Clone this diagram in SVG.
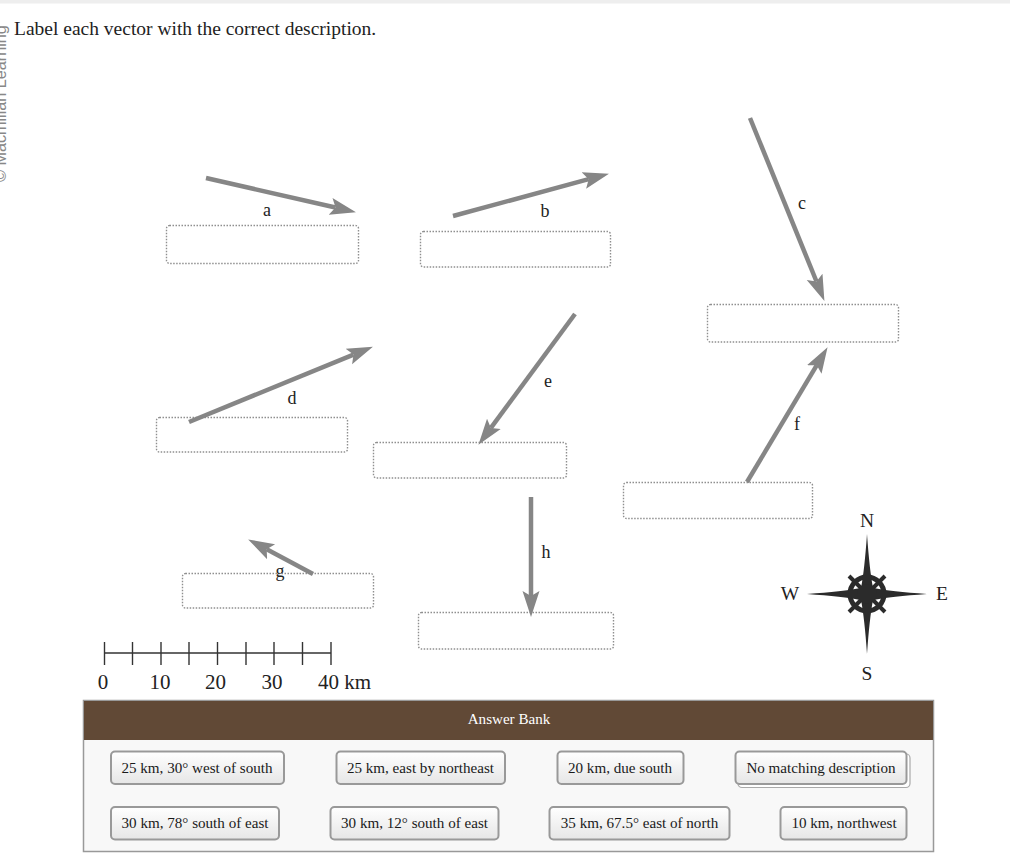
<svg xmlns="http://www.w3.org/2000/svg" width="1010" height="866" viewBox="0 0 1010 866">
<style>
text{font-family:"Liberation Serif","Times New Roman",serif;fill:#222}
.v{fill:none;stroke:#868686;stroke-width:4.500;marker-end:url(#head)}
.slot{fill:#fff;stroke:#8f8f8f;stroke-width:1.400;stroke-dasharray:1.500 1.500}
.lbl{font-size:18px;text-anchor:middle}
.tick{stroke:#333;stroke-width:1.400}
.num{font-size:21px;text-anchor:middle}
.dir{font-size:19.500px;text-anchor:middle}
.btn{fill:url(#bg);stroke:#999;stroke-width:2}
.bt{font-size:15.100px;text-anchor:middle;fill:#1a1a1a}
</style>
<defs>
<linearGradient id="bg" x1="0" y1="0" x2="0" y2="1"><stop offset="0" stop-color="#fff"/><stop offset="1" stop-color="#e6e6e6"/></linearGradient>
<marker id="head" markerUnits="userSpaceOnUse" markerWidth="30" markerHeight="22" viewBox="0 0 30 22" refX="5" refY="11" orient="auto"><path d="M0,2.500 L26,11 L0,19.500 L5,11 Z" fill="#868686"/></marker>
</defs>
<rect width="1010" height="866" fill="#fff"/>
<rect width="1010" height="3.500" fill="#eeeeee"/>
<text transform="translate(5.500,182) rotate(-90)" style="font-family:'Liberation Sans',Arial,sans-serif;fill:#888" font-size="16.200">© Macmillan Learning</text>
<text x="14" y="35" font-size="19.500">Label each vector with the correct description.</text>

<g id="slot-a"><rect class="slot" x="166.500" y="225.500" width="192" height="38" rx="3"/></g>
<g id="slot-b"><rect class="slot" x="420.500" y="231.500" width="190" height="35.500" rx="3"/></g>
<g id="slot-c"><rect class="slot" x="707.500" y="304.500" width="191" height="37.500" rx="3"/></g>
<g id="slot-d"><rect class="slot" x="156.500" y="417.500" width="191" height="34.500" rx="3"/></g>
<g id="slot-e"><rect class="slot" x="373.500" y="442.500" width="193" height="35.500" rx="3"/></g>
<g id="slot-f"><rect class="slot" x="623.500" y="482.500" width="189" height="36" rx="3"/></g>
<g id="slot-g"><rect class="slot" x="182.500" y="573.500" width="191" height="34.500" rx="3"/></g>
<g id="slot-h"><rect class="slot" x="418.500" y="612.500" width="195" height="36.500" rx="3"/></g>

<g id="connectors">
<line class="v" x1="206" y1="178" x2="335.500" y2="207.500"/>
<line class="v" x1="453" y1="216" x2="588.700" y2="179.200"/>
<line class="v" x1="750" y1="118" x2="816.500" y2="281.500"/>
<line class="v" x1="189" y1="422" x2="353.500" y2="354.600"/>
<line class="v" x1="575" y1="314" x2="490.900" y2="427.900"/>
<line class="v" x1="747" y1="482" x2="816.800" y2="365.200"/>
<line class="v" x1="313" y1="574" x2="266.700" y2="549.300"/>
<line class="v" x1="531" y1="497" x2="531" y2="596"/>
</g>

<g id="labels">
<text class="lbl" x="267" y="216">a</text>
<text class="lbl" x="545" y="217">b</text>
<text class="lbl" x="802" y="209">c</text>
<text class="lbl" x="292" y="404">d</text>
<text class="lbl" x="548" y="387">e</text>
<text class="lbl" x="797" y="430">f</text>
<text class="lbl" x="280" y="577">g</text>
<text class="lbl" x="546" y="558">h</text>
</g>

<g id="scale">
<line class="tick" x1="105" y1="653" x2="331" y2="653"/>
<line class="tick" x1="104.500" y1="642" x2="104.500" y2="665"/>
<line class="tick" x1="132.500" y1="642" x2="132.500" y2="665"/>
<line class="tick" x1="161" y1="642" x2="161" y2="665"/>
<line class="tick" x1="189" y1="642" x2="189" y2="665"/>
<line class="tick" x1="217.500" y1="642" x2="217.500" y2="665"/>
<line class="tick" x1="246" y1="642" x2="246" y2="665"/>
<line class="tick" x1="274" y1="642" x2="274" y2="665"/>
<line class="tick" x1="302.500" y1="642" x2="302.500" y2="665"/>
<line class="tick" x1="331" y1="642" x2="331" y2="665"/>
<text class="num" x="103" y="689">0</text>
<text class="num" x="160" y="689">10</text>
<text class="num" x="215.500" y="689">20</text>
<text class="num" x="272" y="689">30</text>
<text class="num" x="344.500" y="689">40 km</text>
</g>

<g id="compass">
<circle cx="867" cy="594" r="17" fill="none" stroke="#2b2b2b" stroke-width="5"/>
<path d="M849,576 L885,612 M885,576 L849,612" stroke="#2b2b2b" stroke-width="4" fill="none"/>
<path d="M867,534 Q869.500,570 873,588 Q891,591.500 927,594 Q891,596.500 873,600 Q869.500,618 867,654 Q864.500,618 861,600 Q843,596.500 807,594 Q843,591.500 861,588 Q864.500,570 867,534 Z" fill="#2b2b2b"/>
<circle cx="867" cy="594" r="10" fill="#2b2b2b"/>
<text class="dir" x="867" y="527">N</text>
<text class="dir" x="867" y="680">S</text>
<text class="dir" x="790" y="600">W</text>
<text class="dir" x="942" y="600">E</text>
</g>

<g id="answer-bank">
<rect x="83.500" y="700.500" width="850" height="151" fill="#f8f8f8" stroke="#999" stroke-width="1.500"/>
<rect x="84" y="701" width="849" height="39" fill="#614936"/>
<text x="509" y="724" font-size="15.100" text-anchor="middle" style="fill:#fff">Answer Bank</text>
</g>
<g id="btn-1"><rect class="btn" x="111" y="751.500" width="173" height="32.500" rx="4"/><text class="bt" x="197" y="773">25 km, 30° west of south</text></g>
<g id="btn-2"><rect class="btn" x="336.500" y="751.500" width="168.500" height="32.500" rx="4"/><text class="bt" x="420.500" y="773">25 km, east by northeast</text></g>
<g id="btn-3"><rect class="btn" x="557.500" y="751.500" width="126" height="32.500" rx="4"/><text class="bt" x="620" y="773">20 km, due south</text></g>
<g id="btn-4"><rect x="738" y="754" width="172" height="33.500" rx="4" fill="#fff" stroke="#aaa" stroke-width="1.200"/><rect class="btn" x="735.500" y="751.500" width="171" height="32.500" rx="4"/><text class="bt" x="821" y="773">No matching description</text></g>
<g id="btn-5"><rect class="btn" x="111" y="807" width="168" height="32.500" rx="4"/><text class="bt" x="195" y="828">30 km, 78° south of east</text></g>
<g id="btn-6"><rect class="btn" x="330.500" y="807" width="168" height="32.500" rx="4"/><text class="bt" x="414.500" y="828">30 km, 12° south of east</text></g>
<g id="btn-7"><rect class="btn" x="549.500" y="807" width="180" height="32.500" rx="4"/><text class="bt" x="639.500" y="828">35 km, 67.5° east of north</text></g>
<g id="btn-8"><rect class="btn" x="780.500" y="807" width="126" height="32.500" rx="4"/><text class="bt" x="844" y="828">10 km, northwest</text></g>
</svg>
